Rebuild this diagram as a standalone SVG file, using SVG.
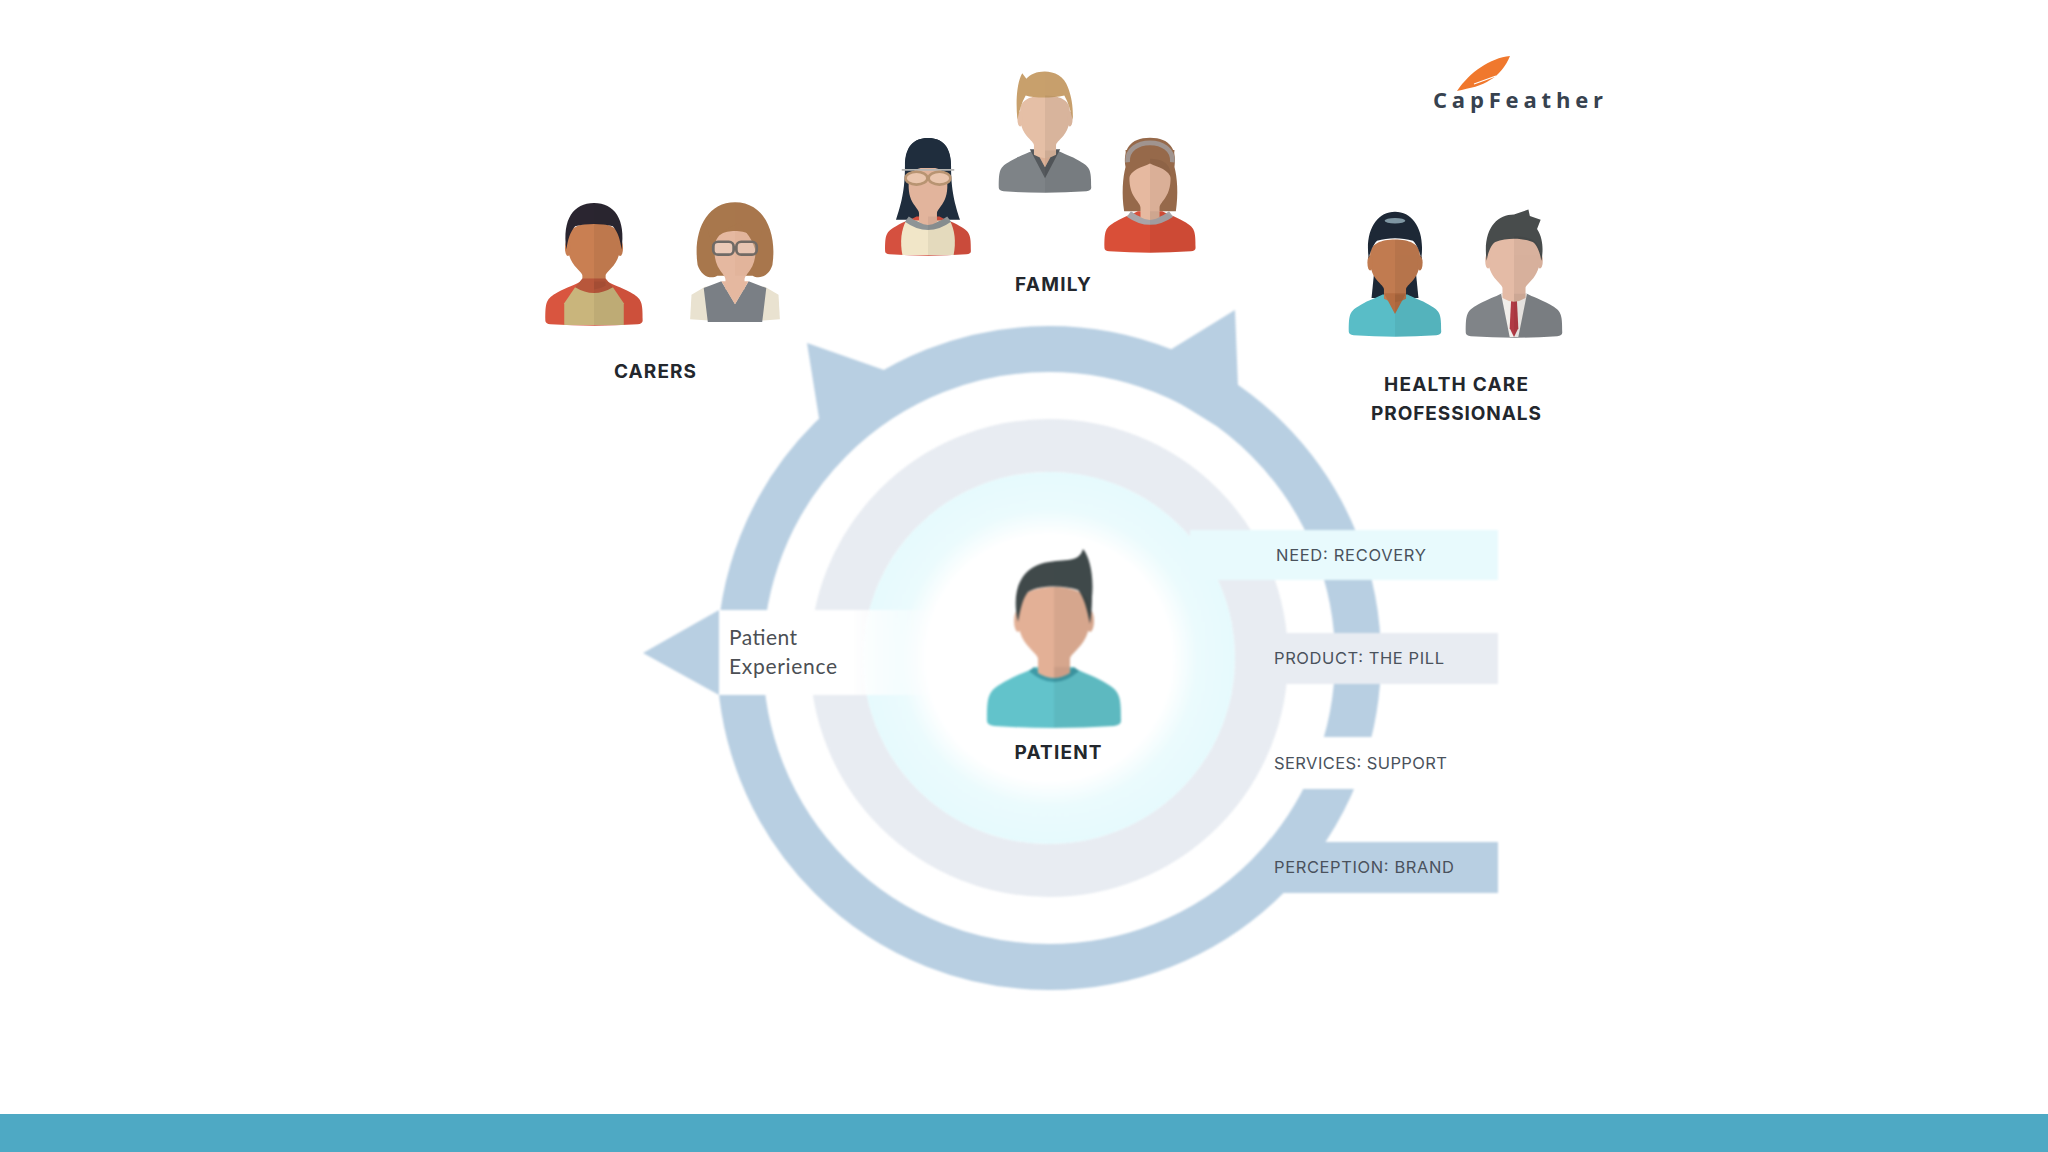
<svg xmlns="http://www.w3.org/2000/svg" width="2048" height="1152" viewBox="0 0 2048 1152">
<style>
.lab{font-family:"Inter","Liberation Sans",sans-serif;font-weight:700;font-size:19px;fill:#23272d;text-anchor:middle}
.bar{font-family:"Inter","Liberation Sans",sans-serif;font-size:16.5px;fill:#4a525c}
.pe{font-family:"Lato","Liberation Sans",sans-serif;font-size:21px;fill:#4c4f54}
.blue{fill:#b8cfe2}
.shade{fill:#000;opacity:.05}
.soft{filter:url(#soft)}
</style>
<defs>
<filter id="soft" x="-5%" y="-5%" width="110%" height="110%" color-interpolation-filters="sRGB"><feGaussianBlur stdDeviation=".8"/></filter>
<radialGradient id="core" gradientUnits="userSpaceOnUse" cx="1049" cy="658" r="186">
<stop offset="0" stop-color="#fff"/><stop offset=".66" stop-color="#fff"/><stop offset=".8" stop-color="#ebfbfd"/><stop offset="1" stop-color="#e6fafd"/>
</radialGradient>
<linearGradient id="fade" gradientUnits="userSpaceOnUse" x1="850" y1="0" x2="950" y2="0">
<stop offset="0" stop-color="#fff"/><stop offset="1" stop-color="#fff" stop-opacity="0"/>
</linearGradient>
<clipPath id="r"><rect x="0" y="-200" width="120" height="220"/></clipPath>
<path id="bust" d="M-67,-6C-67,-32 -66,-36 -50,-45C-38,-52 -25,-56 -18,-60L18,-60C25,-56 38,-52 50,-45C66,-36 67,-32 67,-6Q67,-2 60,-1Q0,3 -60,-1Q-67,-2 -67,-6Z"/>
<g id="face">
<path d="M-36,-118C-36,-134 -20,-140 0,-140C20,-140 36,-134 36,-118C37,-104 35,-92 27,-82C20,-74 16,-71 16,-68L16,-54Q0,-44 -16,-54L-16,-68C-16,-71 -20,-74 -27,-82C-35,-92 -37,-104 -36,-118Z"/>
<ellipse cx="-36" cy="-106" rx="4" ry="11"/><ellipse cx="36" cy="-106" rx="4" ry="11"/>
</g>
<path id="narrow" d="M-30,-118C-30,-134 -16,-140 0,-140C16,-140 30,-134 30,-118C31,-104 29,-92 22,-82C17,-75 14,-72 14,-68L14,-54Q0,-46 -14,-54L-14,-68C-14,-72 -17,-75 -22,-82C-29,-92 -31,-104 -30,-118Z"/>
</defs>
<rect width="2048" height="1152" fill="#fff"/>

<g id="rings" class="soft">
<circle cx="1049" cy="658" r="309" fill="none" stroke="#b8cfe2" stroke-width="46"/>
<polygon class="blue" points="807,343 884,370 900,400 835,440 819,418"/>
<polygon class="blue" points="1235,310 1170,350 1150,385 1215,425 1238,387"/>
<circle cx="1049" cy="658" r="212.500" fill="none" stroke="#e8ecf2" stroke-width="53"/>
<circle cx="1049" cy="658" r="186" fill="url(#core)"/>
<rect x="1190" y="530" width="308" height="50" fill="#e8fafd"/>
<rect x="1250" y="633" width="248" height="51" fill="#e8ecf2"/>
<rect x="1276" y="737" width="222" height="52" fill="#fff"/>
<rect class="blue" x="1275" y="842" width="223" height="51"/>
<rect x="719" y="610" width="135" height="85" fill="#fff"/>
<rect x="850" y="610" width="100" height="85" fill="url(#fade)"/>
<polygon class="blue" points="643,653 719,610 719,695"/>
</g>

<g id="patient">
<g class="soft" transform="translate(1054 727)">
<use href="#bust" fill="#62c3cb"/>
<path d="M-20,-60Q0,-42 20,-60L25,-56Q0,-34 -25,-56Z" fill="#3f9aa6"/>
<use href="#face" fill="#e3b096"/>
<path id="h0" d="M-36,-105C-42,-130 -38,-160 -5,-165C15,-168 25,-165 29,-178C36,-170 40,-150 38,-130C38,-118 37,-110 36,-103C33,-118 30,-130 24,-137C10,-142 -15,-142 -26,-135C-32,-128 -34,-115 -36,-105Z" fill="#40494a"/>
<g clip-path="url(#r)"><use href="#bust" class="shade"/><use href="#face" class="shade"/><use href="#h0" class="shade"/></g>
</g>
<text class="lab" x="1058" y="759" textLength="87">PATIENT</text>
</g>

<g id="carers">
<g id="carer-man"><g class="soft" transform="translate(594 325) scale(.726)">
<use href="#bust" fill="#d9553f"/>
<path d="M-41,0L-41,-30L-26,-52L26,-52L41,-30L41,0Z" fill="#c9b57c"/>
<use href="#face" fill="#c97f52"/>
<path d="M-16,-64L16,-64L26,-52Q0,-36 -26,-52Z" fill="#b8573b"/>
<path id="h1" d="M-38,-104C-44,-146 -28,-168 0,-168C28,-168 44,-146 38,-104C36,-118 33,-128 26,-136C10,-140 -10,-140 -26,-136C-33,-128 -36,-118 -38,-104Z" fill="#2a2530"/>
<g clip-path="url(#r)"><use href="#bust" class="shade"/><use href="#face" class="shade"/><use href="#h1" class="shade"/></g>
</g></g>
<g id="carer-woman"><g class="soft" transform="translate(735 322) scale(.68)">
<path id="h2" d="M-55,-84C-62,-130 -44,-176 0,-176C44,-176 62,-130 55,-84C50,-68 36,-62 26,-68L-26,-68C-36,-62 -50,-68 -55,-84Z" fill="#a8774c"/>
<path d="M-66,-4L-64,-40L-44,-52L44,-52L64,-40L66,-4Q0,2 -66,-4Z" fill="#e9e2d0"/>
<path d="M-46,-50L-20,-60L0,-26L20,-60L46,-50L40,0L-40,0Z" fill="#7a7f85"/>
<use href="#narrow" fill="#e5b8a0" transform="translate(0 6)"/>
<path d="M-20,-60L20,-60L0,-26Z" fill="#e5b8a0"/>
<path d="M-31,-100C-32,-122 -22,-136 8,-146C14,-132 28,-122 31,-100L44,-150L-44,-150Z" fill="#a8774c"/>
<rect x="-32" y="-118" width="30" height="19" rx="7" fill="#fff" fill-opacity=".25" stroke="#6f6a66" stroke-width="4"/>
<rect x="2" y="-118" width="30" height="19" rx="7" fill="#fff" fill-opacity=".25" stroke="#6f6a66" stroke-width="4"/>
<g clip-path="url(#r)"><use href="#h2" class="shade"/></g>
</g></g>
<text class="lab" x="655" y="378" textLength="82">CARERS</text>
</g>

<g id="family">
<g id="family-woman-left"><g class="soft" transform="translate(928 255) scale(.64)">
<path d="M-50,-55C-42,-80 -36,-100 -36,-140C-36,-170 -22,-183 0,-183C22,-183 36,-170 36,-140C36,-100 42,-80 50,-55Z" fill="#1f2d3d"/>
<use href="#bust" fill="#d5503f"/>
<path d="M-40,0C-44,-20 -42,-40 -34,-54L34,-54C42,-40 44,-20 40,0Z" fill="#f1e6c8"/>
<path d="M-30,-60Q0,-38 30,-60L36,-52Q0,-26 -36,-52Z" fill="#8e9496"/>
<use href="#narrow" fill="#e2b49c" transform="translate(0 3)"/>
<path d="M-36,-136L36,-136C36,-170 22,-183 0,-183C-22,-183 -36,-170 -36,-136Z" fill="#1f2d3d"/>
<path d="M-41,-133L41,-133" stroke="#b5b5b3" stroke-width="3"/>
<ellipse cx="-18" cy="-120" rx="17" ry="10" fill="#eac6ae" stroke="#b89472" stroke-width="4"/>
<ellipse cx="18" cy="-120" rx="17" ry="10" fill="#eac6ae" stroke="#b89472" stroke-width="4"/>
<g clip-path="url(#r)"><use href="#bust" class="shade"/></g>
</g></g>
<g id="family-man"><g class="soft" transform="translate(1045 192) scale(.69)">
<use href="#bust" fill="#7e8387"/>
<path d="M-22,-62L0,-20L22,-62L14,-62L0,-36L-14,-62Z" fill="#55595d"/>
<path d="M-14,-62L0,-36L14,-62Z" fill="#dcb096"/>
<use href="#face" fill="#e5bfa6"/>
<path id="h3" d="M-40,-105C-43,-135 -40,-160 -33,-172L-27,-164C-15,-180 25,-180 33,-152C40,-135 41,-115 40,-105C37,-118 34,-130 28,-140C10,-136 -15,-136 -28,-140C-34,-130 -37,-118 -40,-105Z" fill="#c8a06c"/>
<g clip-path="url(#r)"><use href="#bust" class="shade"/><use href="#face" class="shade"/><use href="#h3" class="shade"/></g>
</g></g>
<g id="family-woman-right"><g class="soft" transform="translate(1150 252) scale(.68)">
<path d="M-38,-60C-42,-85 -40,-110 -36,-125C-40,-150 -30,-168 0,-168C30,-168 40,-150 36,-125C40,-110 42,-85 38,-60Z" fill="#96694a"/>
<use href="#bust" fill="#d94f38"/>
<path d="M-28,-60Q0,-38 28,-60L34,-52Q0,-28 -34,-52Z" fill="#a9a5a8"/>
<use href="#narrow" fill="#e6b9a0" transform="translate(0 3)"/>
<path d="M-32,-106C-28,-122 -12,-124 0,-130C12,-124 28,-122 32,-106L36,-150L-36,-150Z" fill="#96694a"/>
<path d="M-33,-132C-36,-170 36,-170 33,-132" fill="none" stroke="#a0948f" stroke-width="7"/>
<g clip-path="url(#r)"><use href="#bust" class="shade"/><use href="#narrow" class="shade" transform="translate(0 3)"/></g>
</g></g>
<text class="lab" x="1053" y="291" textLength="76">FAMILY</text>
</g>

<g id="professionals">
<g id="nurse"><g class="soft" transform="translate(1395 336) scale(.69)">
<path d="M-34,-55L-30,-95L30,-95L34,-55Z" fill="#1d2836"/>
<use href="#bust" fill="#59bdc7"/>
<use href="#face" fill="#c17b50"/>
<path d="M-16,-62L0,-32L16,-62Z" fill="#b56d42"/>
<path id="h4" d="M-38,-112C-44,-152 -27,-180 0,-180C27,-180 44,-152 38,-112C36,-122 32,-132 26,-138C10,-143 -10,-143 -26,-138C-32,-132 -36,-122 -38,-112Z" fill="#1d2836"/>
<ellipse cx="0" cy="-167" rx="15" ry="4" fill="#7f97a3"/>
<g clip-path="url(#r)"><use href="#bust" class="shade"/><use href="#face" class="shade"/></g>
</g></g>
<g id="doctor"><g class="soft" transform="translate(1514 337) scale(.72)">
<use href="#bust" fill="#808488"/>
<path d="M-18,-60L18,-60L6,0L-6,0Z" fill="#f1eeea"/>
<path d="M-4,-52L4,-52L6,-12L0,0L-6,-12Z" fill="#b13a45"/>
<use href="#face" fill="#e4bba6"/>
<path id="h5" d="M-38,-106C-44,-148 -25,-170 0,-170L20,-177L22,-168L37,-163L32,-150C42,-135 40,-115 38,-106C36,-118 32,-128 26,-132C10,-138 -10,-138 -26,-132C-32,-128 -36,-118 -38,-106Z" fill="#484c4c"/>
<g clip-path="url(#r)"><use href="#bust" class="shade"/><use href="#face" class="shade"/><use href="#h5" class="shade"/></g>
</g></g>
<text class="lab" x="1456" y="391" textLength="144">HEALTH CARE</text>
<text class="lab" x="1456" y="420" textLength="170">PROFESSIONALS</text>
</g>

<g id="labels">
<text class="bar" x="1276" y="561" textLength="150">NEED: RECOVERY</text>
<text class="bar" x="1274" y="664" textLength="170">PRODUCT: THE PILL</text>
<text class="bar" x="1274" y="769" textLength="173">SERVICES: SUPPORT</text>
<text class="bar" x="1274" y="873" textLength="180">PERCEPTION: BRAND</text>
<text class="pe" x="729" y="645" textLength="68">Patient</text>
<text class="pe" x="729" y="674" textLength="108">Experience</text>
</g>

<g id="logo">
<path d="M1510,56C1490,58 1470,72 1457,91C1470,88 1482,86 1490,80C1498,76 1506,66 1510,56Z" fill="#f0782d"/>
<path d="M1474,84L1496,76" stroke="#fff" stroke-width="1.200" fill="none"/>
<text x="1433" y="108" font-family="'Open Sans','Liberation Sans',sans-serif" font-weight="700" font-size="22" fill="#37424f" textLength="170">CapFeather</text>
</g>

<rect id="footer" x="0" y="1114" width="2048" height="38" fill="#4ea9c4"/>
</svg>
